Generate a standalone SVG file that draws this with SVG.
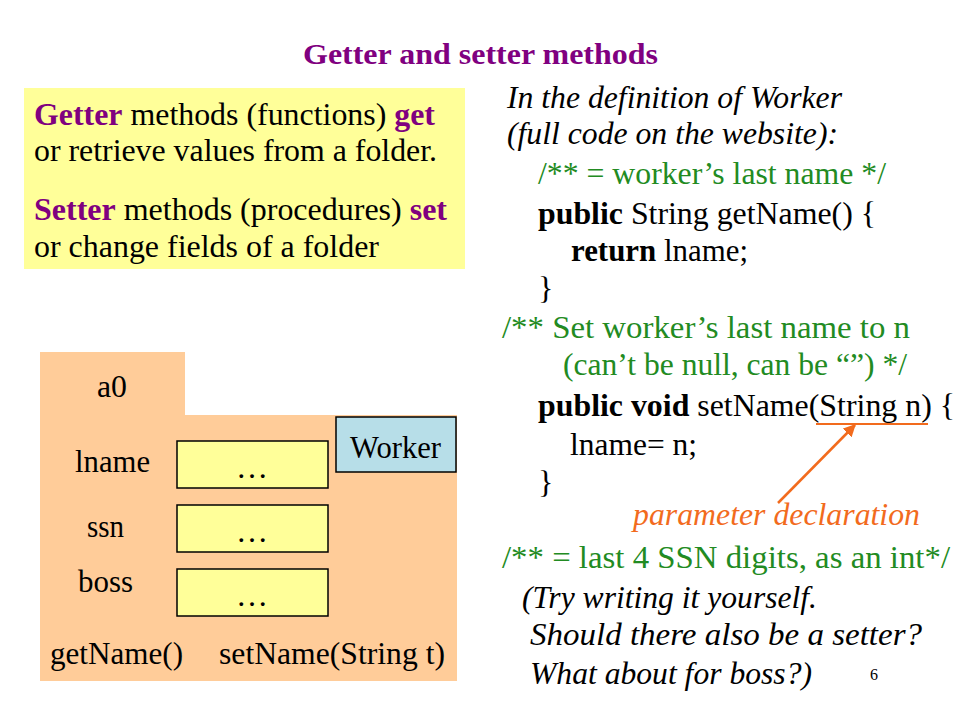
<svg xmlns="http://www.w3.org/2000/svg" width="960" height="720" viewBox="0 0 960 720">
<style>
text{font-family:"Liberation Serif","Times New Roman",serif;font-size:32px;fill:#000}
.b{font-weight:bold}
.i{font-style:italic}
.p{fill:#800080;font-weight:bold}
.g{fill:#228B22}
.o{fill:#F26B1D}
.fld{fill:#FFFF99;stroke:#000;stroke-width:1.5}
</style>
<defs>
<marker id="ah" viewBox="0 0 10 10" refX="9" refY="5" markerWidth="5" markerHeight="5" orient="auto"><path d="M0,0 L10,5 L0,10 z" fill="#F26B1D"/></marker>
</defs>
<rect width="960" height="720" fill="#fff"/>
<text class="p" x="303" y="64" style="font-size:30px" textLength="355" lengthAdjust="spacingAndGlyphs">Getter and setter methods</text>

<g id="infobox">
<rect x="24" y="88" width="441" height="181" fill="#FFFF99"/>
<text x="34" y="125" textLength="401" lengthAdjust="spacingAndGlyphs"><tspan class="p">Getter</tspan> methods (functions) <tspan class="p">get</tspan></text>
<text x="34" y="161" textLength="403" lengthAdjust="spacingAndGlyphs">or retrieve values from a folder.</text>
<text x="34" y="220" textLength="413" lengthAdjust="spacingAndGlyphs"><tspan class="p">Setter</tspan> methods (procedures) <tspan class="p">set</tspan></text>
<text x="34" y="257" textLength="345" lengthAdjust="spacingAndGlyphs">or change fields of a folder</text>
</g>

<g id="folder">
<path d="M40,352 H185 V415 H457 V681 H40 Z" fill="#FFCC99"/>
<text x="97" y="397" textLength="30" lengthAdjust="spacingAndGlyphs">a0</text>
<text x="75" y="472" textLength="75" lengthAdjust="spacingAndGlyphs">lname</text>
<text x="87" y="537" textLength="37" lengthAdjust="spacingAndGlyphs">ssn</text>
<text x="78" y="592" textLength="55" lengthAdjust="spacingAndGlyphs">boss</text>
<text x="50" y="664" textLength="133" lengthAdjust="spacingAndGlyphs">getName()</text>
<text x="219" y="664" textLength="226" lengthAdjust="spacingAndGlyphs">setName(String t)</text>
</g>
<g id="worker">
<rect x="336" y="417" width="120" height="55" fill="#B7DEE8" stroke="#000" stroke-width="1.5"/>
<text x="350" y="458" textLength="91" lengthAdjust="spacingAndGlyphs">Worker</text>
</g>
<g id="lname-field">
<rect class="fld" x="177" y="441" width="151" height="47"/>
<text x="252" y="478" text-anchor="middle">…</text>
</g>
<g id="ssn-field">
<rect class="fld" x="177" y="505" width="151" height="47"/>
<text x="252" y="542" text-anchor="middle">…</text>
</g>
<g id="boss-field">
<rect class="fld" x="177" y="569" width="151" height="47"/>
<text x="252" y="606" text-anchor="middle">…</text>
</g>

<g id="code">
<text class="i" x="507" y="108" textLength="335" lengthAdjust="spacingAndGlyphs">In the definition of Worker</text>
<text class="i" x="507" y="144" textLength="331" lengthAdjust="spacingAndGlyphs">(full code on the website):</text>
<text class="g" x="538" y="184" textLength="348" lengthAdjust="spacingAndGlyphs">/** = worker’s last name */</text>
<text x="538" y="224" textLength="338" lengthAdjust="spacingAndGlyphs"><tspan class="b">public</tspan> String getName() {</text>
<text x="571" y="261" textLength="177" lengthAdjust="spacingAndGlyphs"><tspan class="b">return</tspan> lname;</text>
<text x="538" y="299">}</text>
<text class="g" x="502" y="338" textLength="408" lengthAdjust="spacingAndGlyphs">/** Set worker’s last name to n</text>
<text class="g" x="563" y="375" textLength="344" lengthAdjust="spacingAndGlyphs">(can’t be null, can be “”) */</text>
<text x="538" y="416" textLength="417" lengthAdjust="spacingAndGlyphs"><tspan class="b">public void</tspan> setName(String n) {</text>
<text x="570" y="455" textLength="127" lengthAdjust="spacingAndGlyphs">lname= n;</text>
<text x="538" y="493">}</text>
<text class="i o" x="633" y="525" textLength="287" lengthAdjust="spacingAndGlyphs">parameter declaration</text>
<text class="g" x="502" y="568" textLength="448" lengthAdjust="spacingAndGlyphs">/** = last 4 SSN digits, as an int*/</text>
<text class="i" x="522" y="608" textLength="295" lengthAdjust="spacingAndGlyphs">(Try writing it yourself.</text>
<text class="i" x="530" y="645" textLength="392" lengthAdjust="spacingAndGlyphs">Should there also be a setter?</text>
<text class="i" x="530" y="684" textLength="282" lengthAdjust="spacingAndGlyphs">What about for boss?)</text>
<text x="870" y="680" style="font-size:16px">6</text>
</g>

<g id="connectors">
<line x1="816" y1="424" x2="928" y2="424" stroke="#F26B1D" stroke-width="2"/>
<line x1="778" y1="503" x2="855" y2="425" stroke="#F26B1D" stroke-width="2.5" marker-end="url(#ah)"/>
</g>
</svg>
